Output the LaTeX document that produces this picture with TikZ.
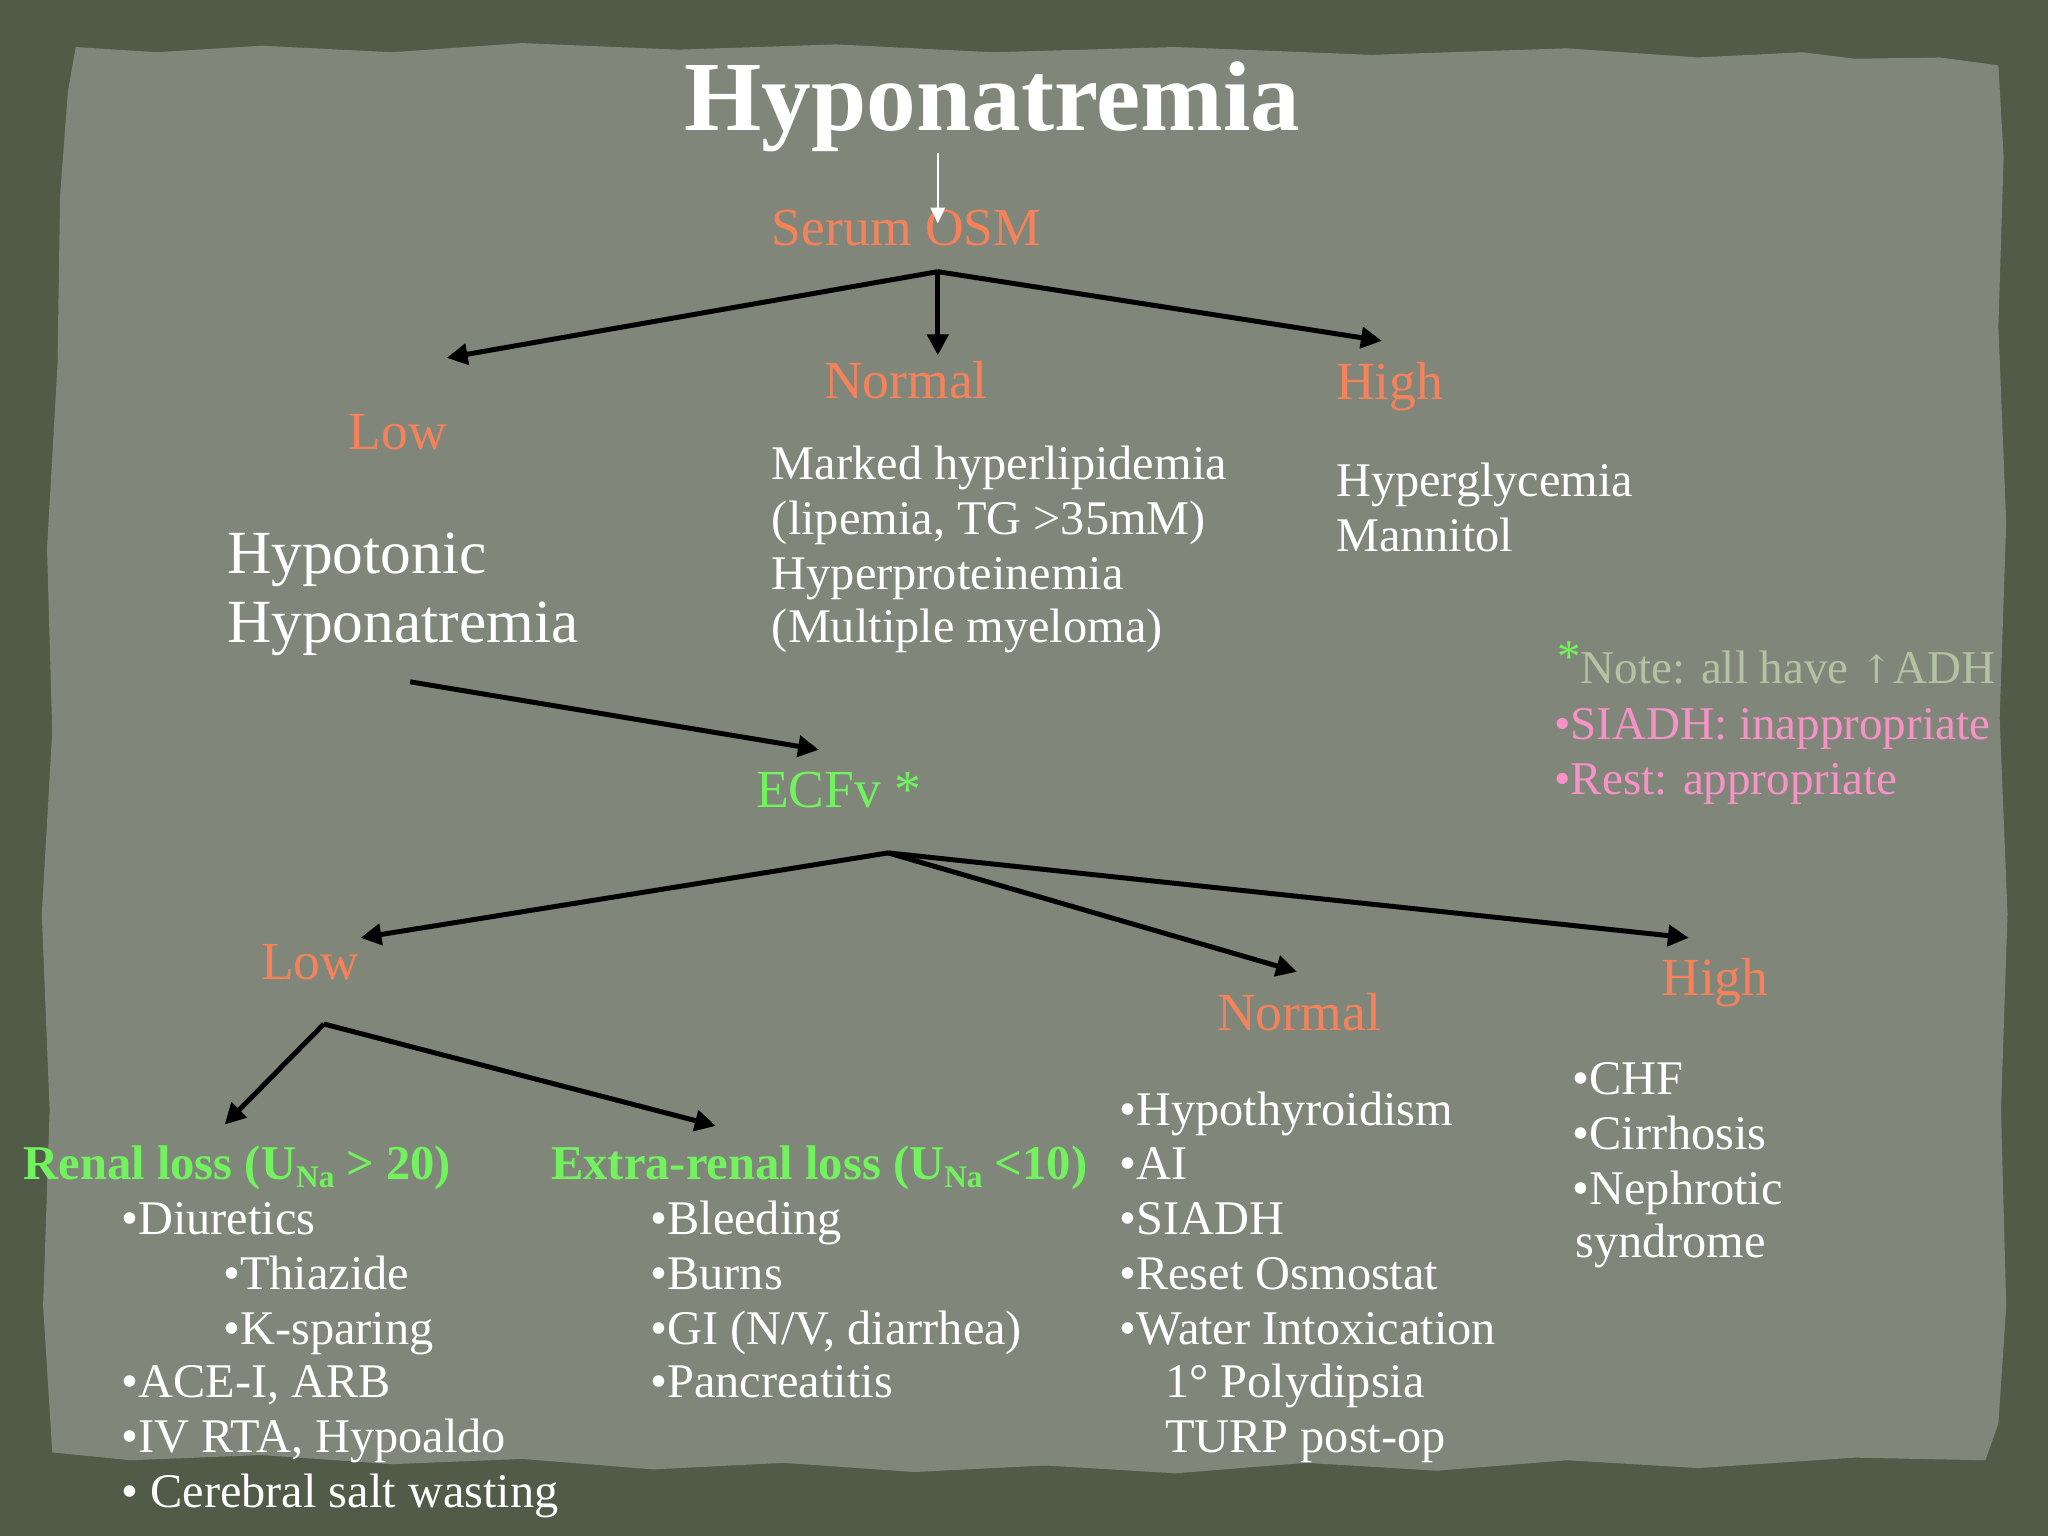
\documentclass[tikz,border=0pt]{standalone}
\usepackage{fontspec}
\setmainfont{Liberation Serif}
\newfontfamily\symfont{DejaVu Serif}
\usetikzlibrary{arrows.meta}
\definecolor{borderc}{HTML}{515B47}
\definecolor{paperc}{HTML}{80877A}
\definecolor{orangec}{HTML}{F5825A}
\definecolor{greenc}{HTML}{72F25E}
\definecolor{pinkc}{HTML}{F792C6}
\definecolor{notec}{HTML}{B4C2A2}
\newcommand{\subNa}{\raisebox{-0.35ex}{\fontsize{12}{12}\selectfont Na}}
\begin{document}
\begin{tikzpicture}[x=0.5pt,y=-0.5pt,
  txt/.style={anchor=base west, inner sep=0pt, outer sep=0pt, text=white, font=\fontsize{18.5}{21}\selectfont},
  big/.style={txt, font=\fontsize{23.5}{26}\selectfont},
  org/.style={anchor=base west, inner sep=0pt, outer sep=0pt, text=orangec, font=\fontsize{20.5}{24}\selectfont},
  grn/.style={anchor=base west, inner sep=0pt, outer sep=0pt, text=greenc, font=\fontsize{20.5}{24}\selectfont},
  grnb/.style={anchor=base west, inner sep=0pt, outer sep=0pt, text=greenc, font=\bfseries\fontsize{18.6}{21}\selectfont},
  pnk/.style={anchor=base west, inner sep=0pt, outer sep=0pt, text=pinkc, font=\fontsize{18}{21}\selectfont},
  arr/.style={line width=1.9pt, black, -{Triangle[length=8pt,width=8pt]}},
]
\useasboundingbox (0,0) rectangle (1568,1176);
% background
\fill[borderc] (0,0) rectangle (1568,1176);
\fill[paperc] (58,36) -- (120,40) -- (200,35) -- (300,40) -- (400,33) -- (520,38) -- (640,34) -- (760,40) -- (900,36) -- (1050,42) -- (1200,37) -- (1300,44) -- (1380,40) -- (1420,45) -- (1485,44) -- (1530,50)
  -- (1534,120) -- (1530,250) -- (1536,400) -- (1531,550) -- (1537,700) -- (1532,850) -- (1536,1000) -- (1530,1090) -- (1520,1118)
  -- (1420,1116) -- (1300,1124) -- (1200,1118) -- (1100,1126) -- (1000,1120) -- (900,1128) -- (800,1122) -- (700,1127) -- (600,1120) -- (500,1125) -- (400,1117) -- (300,1121) -- (200,1114) -- (100,1118) -- (40,1112)
  -- (33,1000) -- (38,850) -- (32,700) -- (40,560) -- (36,420) -- (44,280) -- (46,150) -- (52,70) -- cycle;

% title
\node[anchor=base, inner sep=0pt, text=white, font=\bfseries\fontsize{38}{41}\selectfont] (title) at (760,100) {Hyponatremia};

\node[org] (serum) at (591,188) {Serum OSM};
\coordinate (tarrS) at (718,117);
\coordinate (tarrE) at (718,171);
\draw[white, line width=1pt, -{Triangle[length=6pt,width=5.5pt]}] (tarrS) -- (tarrE);

\coordinate (fork1) at (718,208);
\coordinate (lowA) at (342,274);
\coordinate (normA) at (718,272);
\coordinate (highA) at (1058,261);
\draw[arr] (fork1) -- (lowA);
\draw[arr] (fork1) -- (normA);
\draw[arr] (fork1) -- (highA);

\node[org] (norm1) at (631,305) {Normal};
\node[org] (high1) at (1023,306) {High};
\node[org] (low1) at (267,344) {Low};

\node[txt] (mh1) at (591,367) {Marked hyperlipidemia};
\node[txt] (mh2) at (591,409) {(lipemia, TG >35mM)};
\node[txt] (mh3) at (591,451) {Hyperproteinemia};
\node[txt] (mh4) at (591,492) {(Multiple myeloma)};

\node[txt] (hg1) at (1023,380) {Hyperglycemia};
\node[txt] (hg2) at (1023,422) {Mannitol};

\node[big] (hypo1) at (174,439) {Hypotonic};
\node[big] (hypo2) at (174,492) {Hyponatremia};

\coordinate (hypoS) at (314,522);
\coordinate (ecfA) at (627,574);
\draw[arr] (hypoS) -- (ecfA);

\node[grn] (ecf) at (579,618) {ECFv *};

\node[anchor=base west, inner sep=0pt, font=\fontsize{18}{21}\selectfont] (note1) at (1192,523) {\textcolor{greenc}{\raisebox{0.5ex}{*}}\textcolor{notec}{Note: all have {\symfont\fontsize{15}{18}\selectfont ↑}ADH}};
\node[pnk] (note2) at (1190,566) {•SIADH: inappropriate};
\node[pnk] (note3) at (1190,608) {•Rest: appropriate};

\coordinate (fork2) at (680,653);
\coordinate (lowB) at (276,718);
\coordinate (normB) at (993,744);
\coordinate (highB) at (1293,718);
\draw[arr] (fork2) -- (lowB);
\draw[arr] (fork2) -- (normB);
\draw[arr] (fork2) -- (highB);

\node[org] (low2) at (200,750) {Low};
\node[org] (norm2) at (932,789) {Normal};
\node[org] (high2) at (1272,762) {High};

\coordinate (fork3) at (248,784);
\coordinate (renA) at (172,861);
\coordinate (extA) at (548,862);
\draw[arr] (fork3) -- (renA);
\draw[arr] (fork3) -- (extA);

\node[grnb] (renal) at (18,903) {Renal loss (U\subNa{} > 20)};
\node[grnb] (extra) at (422,903) {Extra-renal loss (U\subNa{} <10)};

\node[txt] (r1) at (93,945) {•Diuretics};
\node[txt] (r2) at (171,987) {•Thiazide};
\node[txt] (r3) at (171,1029) {•K-sparing};
\node[txt] (r4) at (93,1070) {•ACE-I, ARB};
\node[txt] (r5) at (93,1112) {•IV RTA, Hypoaldo};
\node[txt] (r6) at (93,1154) {• Cerebral salt wasting};

\node[txt] (e1) at (498,945) {•Bleeding};
\node[txt] (e2) at (498,987) {•Burns};
\node[txt] (e3) at (498,1029) {•GI (N/V, diarrhea)};
\node[txt] (e4) at (498,1070) {•Pancreatitis};

\node[txt] (n1) at (857,862) {•Hypothyroidism};
\node[txt] (n2) at (857,903) {•AI};
\node[txt] (n3) at (857,945) {•SIADH};
\node[txt] (n4) at (857,987) {•Reset Osmostat};
\node[txt] (n5) at (857,1029) {•Water Intoxication};
\node[txt] (n6) at (892,1070) {1° Polydipsia};
\node[txt] (n7) at (892,1112) {TURP post-op};

\node[txt] (h1) at (1204,838) {•CHF};
\node[txt] (h2) at (1204,880) {•Cirrhosis};
\node[txt] (h3) at (1204,922) {•Nephrotic};
\node[txt] (h4) at (1206,963) {syndrome};
\end{tikzpicture}
\end{document}
